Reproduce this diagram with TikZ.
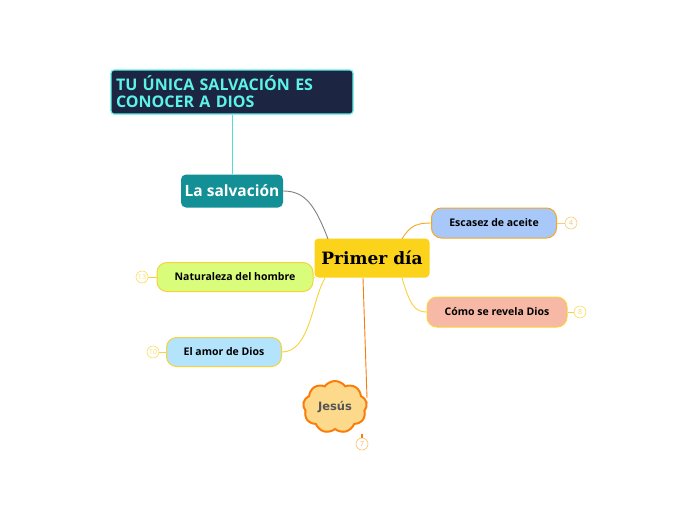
\documentclass[tikz,border=0pt]{standalone}
\usepackage{fontspec}
\setmainfont{Open Sans}
\newfontfamily\headf{DejaVu Serif}
\newfontfamily\dejasans{DejaVu Sans}
\usetikzlibrary{shapes.symbols}
\definecolor{navy}{HTML}{1C2541}
\definecolor{cyanb}{HTML}{5CF2E8}
\definecolor{teal}{HTML}{138F96}
\definecolor{gold}{HTML}{FBD31B}
\definecolor{ornb}{HTML}{F5A623}
\definecolor{yelb}{HTML}{F7D23A}
\definecolor{jorn}{HTML}{FA7D0A}
\tikzset{
 pill/.style={draw, line width=1pt, rounded corners=10pt, minimum height=30pt, font=\fontsize{10.5}{12}\selectfont\bfseries, text=black},
 num/.style={circle, draw=yelb!80, line width=0.6pt, minimum size=12pt, inner sep=0pt, font=\fontsize{7}{8}\selectfont, text=yelb!80},
 link/.style={line width=0.9pt},
}
\begin{document}
\begin{tikzpicture}[x=1pt,y=-1pt]
\useasboundingbox (0,0) rectangle (697,520);
\node[draw=cyanb, fill=navy, line width=1.2pt, rounded corners=3pt, minimum width=242pt, minimum height=44pt, text=cyanb, font=\fontsize{16}{17}\selectfont\bfseries, align=left, text width=232pt] (top) at (232,92) {TU ÚNICA SALVACIÓN ES\\CONOCER A DIOS};
\node[fill=teal, rounded corners=5pt, minimum width=102pt, minimum height=33pt, text=white, font=\fontsize{15.5}{17}\selectfont\bfseries] (sal) at (232,191) {La salvación};
\node[fill=gold, rounded corners=4pt, minimum width=115pt, minimum height=39pt, inner sep=1pt, font=\headf\fontsize{17}{19}\selectfont\bfseries] (pd) at (372,258) {Primer día};
\node[pill, fill={rgb,255:red,168;green,200;blue,250}, draw=ornb, minimum width=125pt] (esc) at (494,223) {Escasez de aceite};
\node[pill, fill={rgb,255:red,247;green,185;blue,166}, draw=yelb, minimum width=140pt] (com) at (497,312) {Cómo se revela Dios};
\node[pill, fill={rgb,255:red,217;green,253;blue,123}, draw=yelb, minimum width=156pt, minimum height=29pt] (nat) at (235,277) {Naturaleza del hombre};
\node[pill, fill={rgb,255:red,179;green,228;blue,251}, draw=yelb, minimum width=115pt, minimum height=29pt] (amor) at (224,352) {El amor de Dios};
\node[cloud, cloud puffs=9, cloud puff arc=110, aspect=1.3, draw=jorn, line width=2pt, fill={rgb,255:red,253;green,217;blue,139}, minimum width=64pt, minimum height=52pt, inner sep=0pt, text={rgb,255:red,85;green,85;blue,85}, font=\dejasans\fontsize{11.5}{12}\selectfont\bfseries] (jes) at (335,407) {Jesús};
\node[num, draw=ornb!60, text=ornb!70] (n4) at (571,223) {4};
\node[num] (n8) at (580,312) {8};
\node[num] (n13) at (142,277) {13};
\node[num] (n10) at (153,352) {10};
\node[num, draw=ornb!70, text=ornb!80] (n7) at (362,444) {7};
\coordinate (pdtl) at (328,239);
\draw[link, cyanb!80!teal] (top.south) -- (sal.north);
\draw[link, gray] (sal.east) .. controls (305,191) and (315,205) .. (pdtl);
\draw[link, ornb] (402,239) .. controls (410,225) and (418,223) .. (esc.west);
\draw[link, yelb] (402,278) .. controls (410,305) and (415,312) .. (com.west);
\draw[link, yelb] (nat.east) -- (pd.west |- nat.east);
\draw[link, yelb] (amor.east) .. controls (310,352) and (312,300) .. (325,278);
\draw[link, jorn] (363,278) -- (367,398);
\draw[link, jorn, line width=1.5pt] (362,434) -- (n7.north);
\draw[link, ornb!60] (esc.east) -- (n4);
\draw[link, yelb] (com.east) -- (n8);
\draw[link, yelb] (nat.west) -- (n13);
\draw[link, yelb] (amor.west) -- (n10);
\end{tikzpicture}
\end{document}
